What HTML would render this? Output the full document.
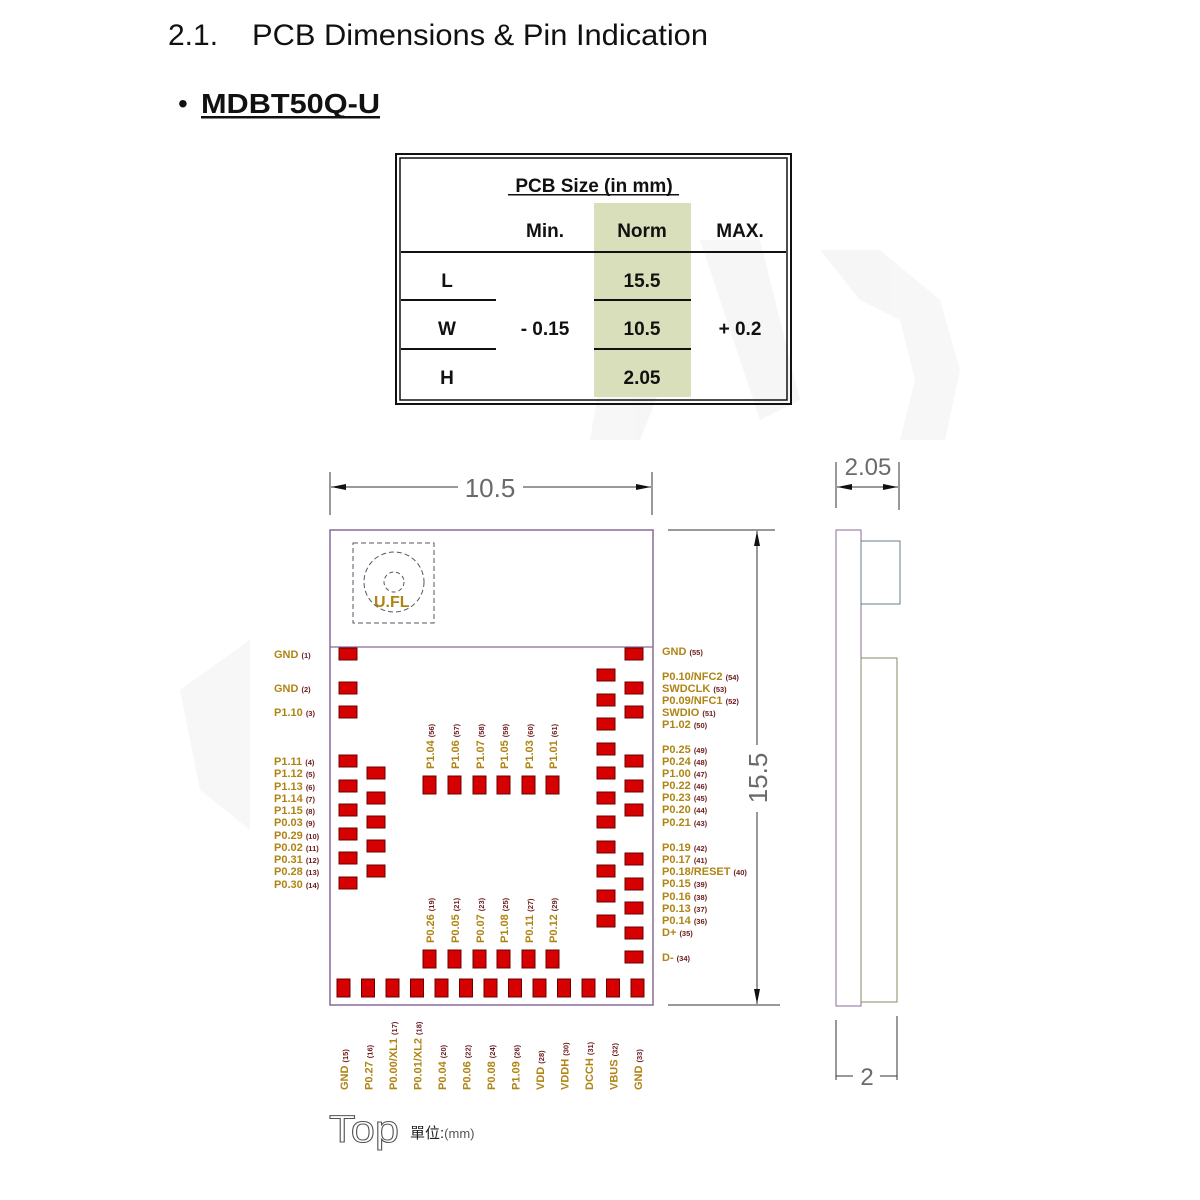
<!DOCTYPE html>
<html><head><meta charset="utf-8"><style>
html,body{margin:0;padding:0;background:#fff;}
svg{display:block;font-family:"Liberation Sans","Noto Sans CJK TC",sans-serif;}
.l{font-size:11px;font-weight:bold;fill:#b08414;}
.l tspan.n{font-size:7.5px;fill:#6b1a1a;}
.p{fill:#d60000;stroke:#6a0000;stroke-width:1;}
.dim{font-size:26px;fill:#6a6a6a;}
</style></head><body>
<svg width="1200" height="1200" viewBox="0 0 1200 1200" xmlns="http://www.w3.org/2000/svg">
<defs>
<marker id="ar" viewBox="0 0 10 4" refX="10" refY="2" markerWidth="18" markerHeight="6" orient="auto-start-reverse" markerUnits="userSpaceOnUse"><path d="M0,0L10,2L0,4z" fill="#111"/></marker>
</defs>
<!-- watermark -->
<g fill="#888" opacity="0.07">
<path d="M820,250 L880,250 L940,300 L960,370 L945,440 L900,440 L915,380 L900,320 L860,300 Z"/>
<path d="M700,240 L760,240 L800,400 L760,420 Z"/>
<path d="M600,380 L660,390 L640,440 L590,440 Z"/>
<path d="M180,690 L250,640 L250,830 L200,790 Z"/>
</g>
<text x="168" y="45" font-size="30" fill="#111">2.1.</text>
<text x="252" y="45" font-size="30" fill="#111" textLength="456" lengthAdjust="spacingAndGlyphs">PCB Dimensions &amp; Pin Indication</text>
<text x="178" y="113" font-size="28" fill="#111">•</text>
<text x="201" y="113" font-size="28" font-weight="bold" fill="#111" textLength="179" lengthAdjust="spacingAndGlyphs">MDBT50Q-U</text>
<rect x="201" y="116" width="179" height="2.5" fill="#111"/>
<!-- table -->
<rect x="396" y="154" width="395" height="250" fill="none" stroke="#111" stroke-width="2"/>
<rect x="400" y="158" width="387" height="242" fill="none" stroke="#111" stroke-width="1.5"/>
<rect x="594" y="203" width="97" height="194" fill="#d9dfba"/>
<g font-weight="bold" font-size="19" fill="#111" text-anchor="middle">
<text x="594" y="192">PCB Size (in mm)</text>
<text x="545" y="237">Min.</text><text x="642" y="237">Norm</text><text x="740" y="237">MAX.</text>
<text x="447" y="287">L</text><text x="642" y="287">15.5</text>
<text x="447" y="335">W</text><text x="545" y="335">- 0.15</text><text x="642" y="335">10.5</text><text x="740" y="335">+ 0.2</text>
<text x="447" y="384">H</text><text x="642" y="384">2.05</text>
</g>
<rect x="508" y="194" width="171" height="1.5" fill="#111"/>
<line x1="401" y1="252" x2="786" y2="252" stroke="#111" stroke-width="2"/>
<g stroke="#111" stroke-width="2">
<line x1="401" y1="300" x2="496" y2="300"/><line x1="594" y1="300" x2="691" y2="300"/>
<line x1="401" y1="349" x2="496" y2="349"/><line x1="594" y1="349" x2="691" y2="349"/>
</g>
<!-- dimensions -->
<g stroke="#333" stroke-width="1">
<line x1="330" y1="472" x2="330" y2="515"/><line x1="652" y1="472" x2="652" y2="515"/>
<line x1="331" y1="487" x2="458" y2="487" marker-start="url(#ar)"/>
<line x1="523" y1="487" x2="651" y2="487" marker-end="url(#ar)"/>
<line x1="668" y1="530" x2="775" y2="530"/><line x1="668" y1="1005" x2="780" y2="1005"/>
<line x1="757" y1="531" x2="757" y2="745" marker-start="url(#ar)"/>
<line x1="757" y1="812" x2="757" y2="1004" marker-end="url(#ar)"/>
<line x1="836" y1="462" x2="836" y2="508"/><line x1="899" y1="462" x2="899" y2="510"/>
<line x1="837" y1="487" x2="898" y2="487" marker-start="url(#ar)" marker-end="url(#ar)"/>
<line x1="836" y1="1020" x2="836" y2="1080"/><line x1="897" y1="1016" x2="897" y2="1080"/>
<line x1="836" y1="1076" x2="853" y2="1076"/><line x1="880" y1="1076" x2="897" y2="1076"/>
</g>
<text class="dim" x="490" y="497" text-anchor="middle">10.5</text>
<text class="dim" x="0" y="0" text-anchor="middle" transform="translate(767,778) rotate(-90)">15.5</text>
<text x="868" y="475" font-size="24" fill="#6a6a6a" text-anchor="middle">2.05</text>
<text x="867" y="1085" font-size="24" fill="#6a6a6a" text-anchor="middle">2</text>
<!-- side view -->
<rect x="836" y="530" width="25" height="476" fill="none" stroke="#8a6a9a" stroke-width="1"/>
<rect x="861" y="541" width="39" height="63" fill="none" stroke="#6a7f8a" stroke-width="1"/>
<rect x="861" y="658" width="36" height="344" fill="none" stroke="#8a8a60" stroke-width="1"/>
<!-- board -->
<rect x="330" y="530" width="323" height="475" fill="none" stroke="#8a6a9a" stroke-width="1.5"/>
<line x1="330" y1="647" x2="653" y2="647" stroke="#8a6a9a" stroke-width="1.2"/>
<rect x="353" y="543" width="81" height="80" fill="none" stroke="#556" stroke-width="1" stroke-dasharray="5,3"/>
<circle cx="394" cy="582" r="30" fill="none" stroke="#556" stroke-width="1" stroke-dasharray="5,3"/>
<circle cx="394" cy="582" r="10" fill="none" stroke="#556" stroke-width="1" stroke-dasharray="4,3"/>
<text x="374" y="607" font-size="16" font-weight="bold" fill="#b08414">U.FL</text>
<!-- pads -->
<g class="p">
<rect x="339" y="648" width="18" height="12"/><rect x="339" y="682" width="18" height="12"/><rect x="339" y="706" width="18" height="12"/><rect x="339" y="755" width="18" height="12"/><rect x="339" y="780" width="18" height="12"/><rect x="339" y="804" width="18" height="12"/><rect x="339" y="828" width="18" height="12"/><rect x="339" y="852" width="18" height="12"/><rect x="339" y="877" width="18" height="12"/>
<rect x="367" y="767" width="18" height="12"/><rect x="367" y="792" width="18" height="12"/><rect x="367" y="816" width="18" height="12"/><rect x="367" y="840" width="18" height="12"/><rect x="367" y="865" width="18" height="12"/>
<rect x="597" y="669" width="18" height="12"/><rect x="597" y="694" width="18" height="12"/><rect x="597" y="718" width="18" height="12"/><rect x="597" y="743" width="18" height="12"/><rect x="597" y="767" width="18" height="12"/><rect x="597" y="792" width="18" height="12"/><rect x="597" y="816" width="18" height="12"/><rect x="597" y="841" width="18" height="12"/><rect x="597" y="865" width="18" height="12"/><rect x="597" y="890" width="18" height="12"/><rect x="597" y="915" width="18" height="12"/>
<rect x="625" y="648" width="18" height="12"/><rect x="625" y="682" width="18" height="12"/><rect x="625" y="706" width="18" height="12"/><rect x="625" y="755" width="18" height="12"/><rect x="625" y="780" width="18" height="12"/><rect x="625" y="804" width="18" height="12"/><rect x="625" y="853" width="18" height="12"/><rect x="625" y="878" width="18" height="12"/><rect x="625" y="902" width="18" height="12"/><rect x="625" y="927" width="18" height="12"/><rect x="625" y="951" width="18" height="12"/>
<rect x="423" y="776" width="13" height="18"/><rect x="448" y="776" width="13" height="18"/><rect x="473" y="776" width="13" height="18"/><rect x="497" y="776" width="13" height="18"/><rect x="522" y="776" width="13" height="18"/><rect x="546" y="776" width="13" height="18"/>
<rect x="423" y="950" width="13" height="18"/><rect x="448" y="950" width="13" height="18"/><rect x="473" y="950" width="13" height="18"/><rect x="497" y="950" width="13" height="18"/><rect x="522" y="950" width="13" height="18"/><rect x="546" y="950" width="13" height="18"/>
<rect x="337" y="979" width="13" height="18"/><rect x="361.5" y="979" width="13" height="18"/><rect x="386" y="979" width="13" height="18"/><rect x="410.5" y="979" width="13" height="18"/><rect x="435" y="979" width="13" height="18"/><rect x="459.5" y="979" width="13" height="18"/><rect x="484" y="979" width="13" height="18"/><rect x="508.5" y="979" width="13" height="18"/><rect x="533" y="979" width="13" height="18"/><rect x="557.5" y="979" width="13" height="18"/><rect x="582" y="979" width="13" height="18"/><rect x="606.5" y="979" width="13" height="18"/><rect x="631" y="979" width="13" height="18"/>
</g>
<g class="l">
<text x="274" y="658">GND <tspan class="n">(1)</tspan></text>
<text x="274" y="692">GND <tspan class="n">(2)</tspan></text>
<text x="274" y="716">P1.10 <tspan class="n">(3)</tspan></text>
<text x="274" y="765">P1.11 <tspan class="n">(4)</tspan></text>
<text x="274" y="777">P1.12 <tspan class="n">(5)</tspan></text>
<text x="274" y="790">P1.13 <tspan class="n">(6)</tspan></text>
<text x="274" y="802">P1.14 <tspan class="n">(7)</tspan></text>
<text x="274" y="814">P1.15 <tspan class="n">(8)</tspan></text>
<text x="274" y="826">P0.03 <tspan class="n">(9)</tspan></text>
<text x="274" y="839">P0.29 <tspan class="n">(10)</tspan></text>
<text x="274" y="851">P0.02 <tspan class="n">(11)</tspan></text>
<text x="274" y="863">P0.31 <tspan class="n">(12)</tspan></text>
<text x="274" y="875">P0.28 <tspan class="n">(13)</tspan></text>
<text x="274" y="888">P0.30 <tspan class="n">(14)</tspan></text>
<text x="662" y="655">GND <tspan class="n">(55)</tspan></text>
<text x="662" y="680">P0.10/NFC2 <tspan class="n">(54)</tspan></text>
<text x="662" y="692">SWDCLK <tspan class="n">(53)</tspan></text>
<text x="662" y="704">P0.09/NFC1 <tspan class="n">(52)</tspan></text>
<text x="662" y="716">SWDIO <tspan class="n">(51)</tspan></text>
<text x="662" y="728">P1.02 <tspan class="n">(50)</tspan></text>
<text x="662" y="753">P0.25 <tspan class="n">(49)</tspan></text>
<text x="662" y="765">P0.24 <tspan class="n">(48)</tspan></text>
<text x="662" y="777">P1.00 <tspan class="n">(47)</tspan></text>
<text x="662" y="789">P0.22 <tspan class="n">(46)</tspan></text>
<text x="662" y="801">P0.23 <tspan class="n">(45)</tspan></text>
<text x="662" y="813">P0.20 <tspan class="n">(44)</tspan></text>
<text x="662" y="826">P0.21 <tspan class="n">(43)</tspan></text>
<text x="662" y="851">P0.19 <tspan class="n">(42)</tspan></text>
<text x="662" y="863">P0.17 <tspan class="n">(41)</tspan></text>
<text x="662" y="875">P0.18/RESET <tspan class="n">(40)</tspan></text>
<text x="662" y="887">P0.15 <tspan class="n">(39)</tspan></text>
<text x="662" y="900">P0.16 <tspan class="n">(38)</tspan></text>
<text x="662" y="912">P0.13 <tspan class="n">(37)</tspan></text>
<text x="662" y="924">P0.14 <tspan class="n">(36)</tspan></text>
<text x="662" y="936">D+ <tspan class="n">(35)</tspan></text>
<text x="662" y="961">D- <tspan class="n">(34)</tspan></text>
<text transform="translate(434,769) rotate(-90)">P1.04 <tspan class="n">(56)</tspan></text>
<text transform="translate(459,769) rotate(-90)">P1.06 <tspan class="n">(57)</tspan></text>
<text transform="translate(484,769) rotate(-90)">P1.07 <tspan class="n">(58)</tspan></text>
<text transform="translate(508,769) rotate(-90)">P1.05 <tspan class="n">(59)</tspan></text>
<text transform="translate(533,769) rotate(-90)">P1.03 <tspan class="n">(60)</tspan></text>
<text transform="translate(557,769) rotate(-90)">P1.01 <tspan class="n">(61)</tspan></text>
<text transform="translate(434,943) rotate(-90)">P0.26 <tspan class="n">(19)</tspan></text>
<text transform="translate(459,943) rotate(-90)">P0.05 <tspan class="n">(21)</tspan></text>
<text transform="translate(484,943) rotate(-90)">P0.07 <tspan class="n">(23)</tspan></text>
<text transform="translate(508,943) rotate(-90)">P1.08 <tspan class="n">(25)</tspan></text>
<text transform="translate(533,943) rotate(-90)">P0.11 <tspan class="n">(27)</tspan></text>
<text transform="translate(557,943) rotate(-90)">P0.12 <tspan class="n">(29)</tspan></text>
<text transform="translate(348,1090) rotate(-90)">GND <tspan class="n">(15)</tspan></text>
<text transform="translate(372.5,1090) rotate(-90)">P0.27 <tspan class="n">(16)</tspan></text>
<text transform="translate(397,1090) rotate(-90)">P0.00/XL1 <tspan class="n">(17)</tspan></text>
<text transform="translate(421.5,1090) rotate(-90)">P0.01/XL2 <tspan class="n">(18)</tspan></text>
<text transform="translate(446,1090) rotate(-90)">P0.04 <tspan class="n">(20)</tspan></text>
<text transform="translate(470.5,1090) rotate(-90)">P0.06 <tspan class="n">(22)</tspan></text>
<text transform="translate(495,1090) rotate(-90)">P0.08 <tspan class="n">(24)</tspan></text>
<text transform="translate(519.5,1090) rotate(-90)">P1.09 <tspan class="n">(26)</tspan></text>
<text transform="translate(544,1090) rotate(-90)">VDD <tspan class="n">(28)</tspan></text>
<text transform="translate(568.5,1090) rotate(-90)">VDDH <tspan class="n">(30)</tspan></text>
<text transform="translate(593,1090) rotate(-90)">DCCH <tspan class="n">(31)</tspan></text>
<text transform="translate(617.5,1090) rotate(-90)">VBUS <tspan class="n">(32)</tspan></text>
<text transform="translate(642,1090) rotate(-90)">GND <tspan class="n">(33)</tspan></text>
</g>
<text x="329" y="1142" font-size="38" fill="none" stroke="#555" stroke-width="1" textLength="70" lengthAdjust="spacingAndGlyphs">Top</text>
<text x="410" y="1138" font-size="15" fill="#222">單位:<tspan font-size="13" fill="#555">(mm)</tspan></text>
</svg>
</body></html>
